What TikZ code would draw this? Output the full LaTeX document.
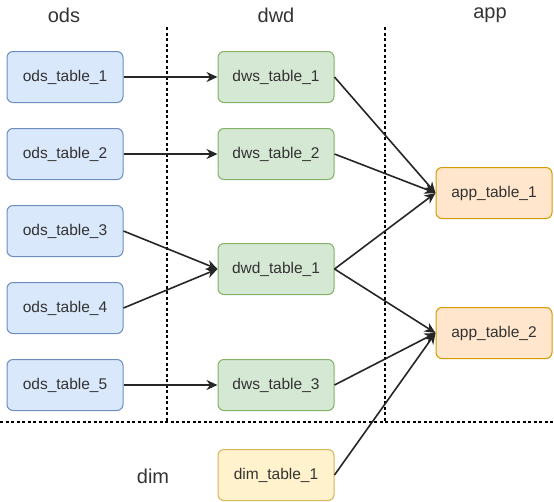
\documentclass[tikz,border=0pt]{standalone}
\usepackage{fontspec}
\setmainfont{Liberation Sans}
\usetikzlibrary{positioning,arrows.meta}
\definecolor{odsfill}{HTML}{DAE8FC}
\definecolor{odsline}{HTML}{6C8EBF}
\definecolor{dwsfill}{HTML}{D5E8D4}
\definecolor{dwsline}{HTML}{82B366}
\definecolor{appfill}{HTML}{FFE6CC}
\definecolor{appline}{HTML}{D79B00}
\definecolor{dimfill}{HTML}{FFF2CC}
\definecolor{dimline}{HTML}{D6B656}
\definecolor{txt}{HTML}{333333}
\tikzstyle{tablebox} = [draw, rectangle, rounded corners=6pt, line width=1pt, minimum width=116pt, minimum height=51pt, text=txt, font=\fontsize{15.5}{18}\selectfont]
\tikzstyle{odsbox} = [tablebox, draw=odsline, fill=odsfill]
\tikzstyle{dwsbox} = [tablebox, draw=dwsline, fill=dwsfill]
\tikzstyle{appbox} = [tablebox, draw=appline, fill=appfill]
\tikzstyle{dimbox} = [tablebox, draw=dimline, fill=dimfill]
\tikzstyle{layer} = [text=txt, font=\fontsize{20}{24}\selectfont]
\tikzstyle{flow} = [black!85, line width=1.6pt, -{Stealth[length=11pt,width=10pt]}]
\tikzstyle{split} = [black, line width=1.2pt, dash pattern=on 3pt off 2.5pt]

\begin{document}
\begin{tikzpicture}[x=1pt, y=-1pt, node distance=77pt]
            \useasboundingbox (0,0) rectangle (554,501);
            % Layer borders
            \draw[split] (167,27) -- (167,422);
            \draw[split] (385,27) -- (385,422);
            \draw[split] (0,422) -- (554,422);

            % Defining nodes
            \node[layer] (OdsTitle) at (64,15) {ods};
            \node[layer] (DwdTitle) at (276,15) {dwd};
            \node[layer] (AppTitle) at (490,15) {app};
            \node[layer] (DimTitle) at (153,476) {dim};

            \node[odsbox] (Ods1) at (65,77) {ods\_table\_1};
            \node[odsbox, below of=Ods1] (Ods2) {ods\_table\_2};
            \node[odsbox, below of=Ods2] (Ods3) {ods\_table\_3};
            \node[odsbox, below of=Ods3] (Ods4) {ods\_table\_4};
            \node[odsbox, below of=Ods4] (Ods5) {ods\_table\_5};

            \node[dwsbox] (Dws1) at (276,77) {dws\_table\_1};
            \node[dwsbox, below of=Dws1] (Dws2) {dws\_table\_2};
            \node[dwsbox] (Dwd1) at (276,269) {dwd\_table\_1};
            \node[dwsbox] (Dws3) at (276,385) {dws\_table\_3};
            \node[dimbox] (Dim1) at (276,475) {dim\_table\_1};

            \node[appbox] (App1) at (494,193) {app\_table\_1};
            \node[appbox] (App2) at (494,333) {app\_table\_2};

            % Drawing diagram
            \draw[flow] (Ods1.east) -- (Dws1.west);
            \draw[flow] (Ods2.east) -- (Dws2.west);
            \draw[flow] (Ods3.east) -- (Dwd1.west);
            \draw[flow] (Ods4.east) -- (Dwd1.west);
            \draw[flow] (Ods5.east) -- (Dws3.west);
            \draw[flow] (Dws1.east) -- (App1.west);
            \draw[flow] (Dws2.east) -- (App1.west);
            \draw[flow] (Dwd1.east) -- (App1.west);
            \draw[flow] (Dwd1.east) -- (App2.west);
            \draw[flow] (Dws3.east) -- (App2.west);
            \draw[flow] (Dim1.east) -- (App2.west);
        \end{tikzpicture}
\end{document}
